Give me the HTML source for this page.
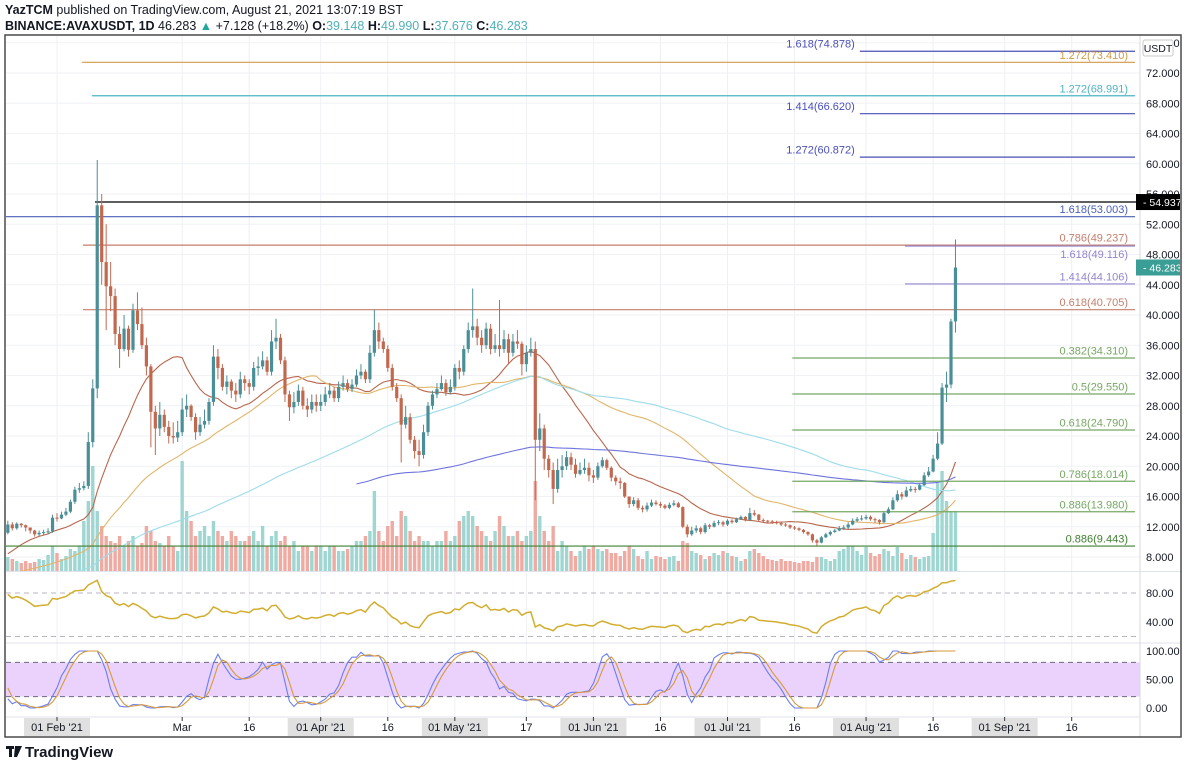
<!DOCTYPE html>
<html><head><meta charset="utf-8">
<style>
html,body{margin:0;padding:0;background:#fff;width:1186px;height:768px;overflow:hidden}
svg{display:block;font-family:"Liberation Sans",Arial,sans-serif}
</style></head>
<body>
<svg id="chart" width="1186" height="768" viewBox="0 0 1186 768" xmlns="http://www.w3.org/2000/svg">
<defs>
<clipPath id="mainClip"><rect x="6" y="36" width="1134" height="535"/></clipPath>
<clipPath id="rsiClip"><rect x="6" y="572" width="1134" height="70"/></clipPath>
<clipPath id="stClip"><rect x="6" y="644" width="1134" height="72"/></clipPath>
</defs>
<text x="5" y="14" font-size="12.5" fill="#131722"><tspan font-weight="bold">YazTCM</tspan> published on TradingView.com, August 21, 2021 13:07:19 BST</text>
<text x="5" y="30" font-size="12.5" fill="#131722"><tspan font-weight="bold">BINANCE:AVAXUSDT, 1D</tspan>  46.283 <tspan fill="#26a69a">▲</tspan> +7.128 (+18.2%) <tspan font-weight="bold">O:</tspan><tspan fill="#4fb0b8">39.148</tspan> <tspan font-weight="bold">H:</tspan><tspan fill="#4fb0b8">49.990</tspan> <tspan font-weight="bold">L:</tspan><tspan fill="#4fb0b8">37.676</tspan> <tspan font-weight="bold">C:</tspan><tspan fill="#4fb0b8">46.283</tspan></text>
<g id="grid"></g>
<g id="main" clip-path="url(#mainClip)"></g>
<g id="rsi"></g>
<g id="stoch"></g>
<g id="axes"></g>
<rect x="5" y="35" width="1176" height="702" fill="none" stroke="#4a4a4a" stroke-width="1.5"/>
<g>
<rect x="6" y="746" width="8" height="3" fill="#131722"/><rect x="9" y="746" width="3" height="11" fill="#131722"/>
<polygon points="15,746 22,746 17,757 14,757" fill="#131722"/>
<text x="25" y="757" font-size="15" font-weight="bold" fill="#131722">TradingView</text>
</g>
</svg>
<script>
// ---- data ----
const preCloses = [4.8,5.2,4.6,4.3,4.4,4.3,4.2,4.1,4.0,
4.1,4.0,3.9,3.9,3.8,3.6,3.7,3.8,3.9,4.0,4.1,4.2,4.1,4.0,3.9,3.8,3.7,3.6,3.5,3.4,3.5,3.6,3.5,3.4,3.3,3.2,3.1,3.0,3.0,2.9,3.0,
3.1,3.0,3.2,3.3,3.4,3.5,3.6,3.5,3.4,3.5,3.6,3.7,3.8,3.9,3.8,3.9,4.1,4.2,4.0,4.1,4.4,4.6,4.8,4.5,4.2,3.9,4.0,4.2,4.3,4.5,
4.6,4.4,4.3,4.2,4.3,4.4,4.3,4.2,4.0,3.9,3.7,3.8,3.9,3.9,3.8,3.9,4.0,3.9,3.8,3.7,3.5,3.3,3.0,3.2,3.3,3.4,3.5,3.4,3.4,3.5,3.6,
3.6,3.8,4.2,4.5,4.8,5.5,6.3,7.0,7.8,8.2,7.5,8.8,9.8,10.5,10.0,10.8,11.5,12.2,11.8,11.2];
const closes = [12.3,11.8,12.4,12.2,11.9,11.5,11.0,11.2,11.3,11.4,13.2,
13.1,13.6,14.0,15.3,16.9,17.1,17.4,23.2,30.3,54.5,47.0,43.8,42.5,37.5,35.5,38.2,35.4,40.6,38.8,36.0,33.2,27.2,25.0,26.8,25.2,24.0,23.8,24.5,
27.5,28.0,26.5,24.5,25.5,26.0,28.5,34.5,33.0,30.5,31.2,30.0,29.5,31.5,31.0,30.5,33.0,33.2,34.0,32.5,36.5,37.0,34.0,29.5,27.8,28.5,30.0,28.0,27.5,28.5,28.0,
28.5,29.5,30.0,29.0,30.5,31.0,30.2,30.8,32.0,32.5,31.5,35.0,38.0,36.5,35.5,33.0,30.5,29.0,25.5,26.5,23.5,22.0,21.5,24.5,28.0,29.5,30.2,31.0,29.8,30.5,
33.0,32.5,35.5,38.0,38.5,37.0,36.0,38.2,35.5,36.0,35.5,36.8,35.0,36.5,36.2,33.5,35.0,35.5,23.5,25.0,21.0,19.5,17.0,19.5,20.0,21.2,20.2,19.0,19.5,19.8,18.8,
18.5,20.0,20.8,19.8,18.5,18.0,17.8,16.0,15.0,15.5,14.5,14.3,14.8,15.2,15.0,14.8,14.5,14.9,15.1,14.6,12.0,11.0,11.5,11.8,11.3,12.2,12.0,12.5,12.6,12.3,
12.8,12.6,13.0,13.3,12.9,13.8,13.6,12.9,12.8,12.7,12.6,12.5,12.3,12.2,11.9,11.8,11.6,11.3,11.0,10.2,9.9,10.6,11.0,11.3,11.5,11.8,11.9,12.3,12.8,13.0,13.1,
13.3,13.0,12.9,12.6,13.8,14.3,15.5,16.3,16.0,16.8,17.0,16.9,17.5,18.8,19.3,21.0,23.0,30.4,30.8,39.148,46.283];
const highs = [12.8,12.6,12.6,12.5,12.3,11.9,11.6,11.5,11.6,11.8,13.6,
13.8,14.0,14.5,15.6,17.3,17.8,18.0,24.5,31.5,60.5,56.0,52.0,47.0,43.5,38.5,40.0,38.6,41.5,43.0,41.0,37.0,33.5,28.0,28.5,27.5,26.0,25.8,26.0,
29.0,29.5,28.2,27.0,26.5,27.5,29.0,36.0,35.5,33.5,32.0,31.5,31.0,32.5,32.0,31.5,33.8,34.5,35.2,34.5,38.0,39.5,37.5,34.5,30.0,29.8,30.8,30.5,29.0,29.5,29.5,
29.5,30.5,31.0,30.5,31.2,32.0,31.5,31.5,32.8,33.5,32.8,36.0,40.7,39.0,37.0,36.0,33.5,31.0,29.5,28.0,27.0,24.0,23.5,25.5,28.5,30.0,31.0,32.0,31.5,31.5,
33.5,34.0,36.0,39.0,43.5,39.5,38.0,39.0,38.8,37.5,42.0,38.0,37.5,37.5,38.0,36.5,36.0,37.0,36.5,27.0,25.5,21.5,20.5,21.0,21.5,22.0,21.8,21.0,20.5,21.0,20.5,
19.5,20.5,21.2,21.0,20.0,18.8,18.5,17.9,16.0,15.9,15.8,14.8,15.2,15.6,15.5,15.3,15.0,15.2,15.5,15.3,14.7,12.3,12.0,12.2,12.0,12.5,12.4,12.8,12.9,12.8,
13.0,13.0,13.2,13.5,13.4,14.5,14.2,13.7,13.1,12.9,12.9,12.8,12.6,12.5,12.3,12.1,11.9,11.7,11.4,11.1,10.4,10.8,11.2,11.5,11.7,12.1,12.2,12.6,13.1,13.3,13.5,
13.6,13.5,13.2,13.0,14.0,14.6,15.9,16.8,16.6,17.3,17.4,17.3,17.8,19.2,19.9,21.5,24.5,31.0,32.5,39.5,49.99];
const lows = [11.0,11.5,11.6,11.9,11.4,11.1,10.7,10.7,10.9,11.0,11.2,
12.7,13.0,13.4,13.8,15.0,16.5,16.8,17.0,22.5,29.0,44.0,38.0,40.5,36.0,33.0,35.2,34.5,35.0,38.0,35.5,32.0,22.5,21.5,24.0,24.5,23.0,23.0,23.2,
24.0,26.5,26.0,23.5,24.0,25.0,25.5,28.0,31.5,30.0,29.5,29.0,28.5,29.0,30.0,29.5,30.0,32.0,32.8,32.0,32.0,35.5,33.5,28.5,26.0,27.0,28.0,27.5,26.5,27.0,27.2,
27.3,28.0,29.0,28.5,28.5,30.0,29.8,29.8,30.5,31.5,31.0,31.0,34.5,35.5,35.0,32.5,30.0,28.5,20.5,25.0,23.0,21.0,20.0,21.0,24.0,27.5,29.0,30.0,29.3,29.5,
30.0,31.5,32.0,35.0,37.0,36.0,35.0,35.5,34.8,35.0,34.5,35.0,33.5,34.5,35.5,32.0,32.5,34.5,15.5,22.0,19.5,18.5,15.0,16.5,18.5,19.5,19.5,18.5,18.8,19.0,18.0,
17.8,18.2,19.8,19.5,18.0,17.5,17.0,15.8,14.5,14.7,14.2,13.9,14.0,14.6,14.8,14.5,14.3,14.3,14.7,14.5,11.8,10.6,10.8,11.2,11.0,11.1,11.7,11.9,12.2,12.0,
12.1,12.4,12.5,12.9,12.7,12.8,13.4,12.7,12.6,12.5,12.4,12.3,12.1,12.0,11.7,11.6,11.4,11.1,10.8,9.9,9.5,9.8,10.5,10.8,11.2,11.4,11.6,11.7,12.2,12.6,12.8,
12.9,12.8,12.5,12.3,12.5,13.7,14.2,15.3,15.6,15.9,16.6,16.5,16.8,17.4,18.6,19.2,20.8,22.8,28.5,30.3,37.676];
const volumes = [14,12,10,8,10,8,9,12,11,16,25,
18,12,15,22,20,25,50,70,105,60,45,35,30,28,35,25,30,35,25,28,45,40,30,28,25,35,25,20,
110,60,50,35,40,45,35,50,40,35,30,40,35,30,30,35,40,30,45,25,35,40,30,35,25,30,20,25,25,20,25,
25,20,25,25,20,20,22,25,30,30,35,40,80,40,30,45,50,35,60,55,40,30,35,30,30,25,30,30,40,30,
35,50,55,60,55,45,40,35,30,40,55,45,35,35,40,30,35,40,90,55,40,30,45,20,30,25,20,15,20,25,22,
25,22,20,22,18,18,15,20,25,22,15,12,20,12,15,14,12,14,15,10,30,28,20,18,16,12,15,18,16,20,
18,15,14,10,12,20,22,18,15,12,11,10,12,10,10,9,8,10,10,9,14,14,12,10,12,20,22,25,25,20,16,
24,18,15,17,22,20,15,24,18,12,16,14,12,14,15,38,88,100,70,60,60];
const priceTicks = [8,12,16,20,24,28,32,36,40,44,48,52,56,60,64,68,72,76];
const timeTickDays = [0,28,43,59,74,89,105,120,135,150,165,181,196,212,227];
const timeTickLabels = ["01 Feb '21","Mar","16","01 Apr '21","16","01 May '21","17","01 Jun '21","16","01 Jul '21","16","01 Aug '21","16","01 Sep '21","16"];
const fibPrices = [74.878,73.410,68.991,66.620,60.872,53.003,49.237,49.116,44.106,40.705,34.310,29.550,24.790,18.014,13.980,9.443];
const fibLabels = ["1.618","1.272","1.272","1.414","1.272","1.618","0.786","1.618","1.414","0.618","0.382","0.5","0.618","0.786","0.886","0.886"];
const fibStartIdx = [190.6,16.6,18.8,190.6,190.6,-1,16.8,200.7,200.7,16.8,175.5,175.5,175.5,175.5,175.5,-1];
const fibLabelLeft = [1,0,0,1,1,0,0,0,0,0,0,0,0,0,0,0];
const fibLabelBelow = [0,0,0,0,0,0,0,1,0,0,0,0,0,0,0,0];
const fibColors = ["#4a4fb8","#d39a45","#4db5c5","#4a4fb8","#4a4fb8","#4a5fb8","#c47f6c","#9384d0","#9384d0","#c47f6c","#76a863","#76a863","#76a863","#76a863","#76a863","#3f7f30"];

// ---- scales ----
const NS="http://www.w3.org/2000/svg";
const PRE = preCloses.length;
function xOf(i){return 57 + (i-11)*4.47;}
function xDay(d){return 57 + d*4.47;}
function yP(p){return 73 + (72-p)*7.5625;}
function yR(v){return 593 + (80-v)*0.725;}
function yS(v){return 708 - v*0.57;}
function yV(v){return 571 - v*1.0;}
function mk(tag,attrs,parent){const e=document.createElementNS(NS,tag);for(const k in attrs)e.setAttribute(k,attrs[k]);parent.appendChild(e);return e;}

const grid=document.getElementById('grid'), main=document.getElementById('main'), rsiG=document.getElementById('rsi'), stG=document.getElementById('stoch'), axes=document.getElementById('axes');

timeTickDays.forEach((d,k)=>{
  const l=mk('line',{x1:xDay(d),x2:xDay(d),y1:36,y2:717,stroke:'#eef0f5','stroke-width':1},grid);
  
  
});
priceTicks.forEach(p=>{
  const l=mk('line',{x1:6,x2:1140,y1:yP(p),y2:yP(p),stroke:'#f0f2f6','stroke-width':1},grid);
  
  
});

closes.forEach((c,i)=>{
  const o = i>0?closes[i-1]:preCloses[PRE-1];
  const up=c>=o;
  const r=mk('rect',{x:xOf(i)-1.7,y:yV(volumes[i]),width:3.4,height:volumes[i]*1.0,fill:up?'#9fd6d2':'#efaaa2'},main);
  
  
});

const all = preCloses.concat(closes);
function sma(n){const out=[];for(let j=0;j<all.length;j++){if(j<n-1){out.push(null);continue;}let s=0;for(let k=j-n+1;k<=j;k++)s+=all[k];out.push(s/n);}return out;}
function ema(n){const out=[];const a=2/(n+1);let e=all[0];for(let j=0;j<all.length;j++){e=j==0?all[0]:e+a*(all[j]-e);out.push(j<n-1?null:e);}return out;}
const maDefs=[[20,'#b8664c','s'],[50,'#e2b56a','s'],[100,'#9ddcea','s'],[200,'#6f74dc','e']];
maDefs.forEach(([n,col,kind])=>{
  const m=kind=='s'?sma(n):ema(n);let d='';
  closes.forEach((c,i)=>{const v=m[PRE+i];if(v==null)return;d+=(d?'L':'M')+xOf(i).toFixed(1)+','+yP(v).toFixed(1);});
  const p=mk('path',{d:d,fill:'none',stroke:col,'stroke-width':1.1},main);
  
  
});

fibPrices.forEach((p,k)=>{
  const x1=Math.max(6,xOf(fibStartIdx[k])), y=yP(p);
  const l=mk('line',{x1:x1,x2:1135,y1:y,y2:y,stroke:fibColors[k],'stroke-width':1.2},main);
  
  
  const t=mk('text',{x:fibLabelLeft[k]?x1-5:1128,y:fibLabelBelow[k]?y+12:y-3.5,'font-size':11,fill:fibColors[k],'text-anchor':'end'},main);
  t.textContent=fibLabels[k]+'('+p.toFixed(3)+')';
  
  
});
const rl=mk('line',{x1:95,x2:1140,y1:yP(54.937),y2:yP(54.937),stroke:'#5e5e5e','stroke-width':2},main);



closes.forEach((c,i)=>{
  const o = i>0?closes[i-1]:preCloses[PRE-1];
  const up=c>=o, col=up?'#4a8f98':'#c2684f', x=xOf(i);
  const w=mk('line',{x1:x,x2:x,y1:yP(highs[i]),y2:yP(lows[i]),stroke:col,'stroke-width':1},main);
  
  
  const top=yP(Math.max(o,c)), h=Math.max(1,Math.abs(yP(o)-yP(c)));
  const b=mk('rect',{x:x-1.6,y:top,width:3.2,height:h,fill:col},main);
  
  
});

const rsi=[];(function(){let ag=0,al=0;for(let j=1;j<all.length;j++){const ch=all[j]-all[j-1];const g=Math.max(ch,0),l=Math.max(-ch,0);if(j<=14){ag+=g/14;al+=l/14;rsi[j]=j==14?100-100/(1+ag/(al||1e-9)):null;}else{ag=(ag*13+g)/14;al=(al*13+l)/14;rsi[j]=100-100/(1+ag/(al||1e-9));}}})();
const stRaw=[],K=[],D=[];
for(let j=0;j<all.length;j++){if(j<28){stRaw[j]=null;continue;}let mn=1e9,mx=-1e9;for(let k=j-13;k<=j;k++){mn=Math.min(mn,rsi[k]);mx=Math.max(mx,rsi[k]);}stRaw[j]=mx>mn?(rsi[j]-mn)/(mx-mn)*100:50;}
for(let j=0;j<all.length;j++){K[j]=j>=30?(stRaw[j]+stRaw[j-1]+stRaw[j-2])/3:null;}
for(let j=0;j<all.length;j++){D[j]=j>=32?(K[j]+K[j-1]+K[j-2])/3:null;}

[80,20].forEach(v=>{const l=mk('line',{x1:6,x2:1140,y1:yR(v),y2:yR(v),stroke:'#b9b3c4','stroke-width':1,'stroke-dasharray':'5,4'},rsiG);});
(function(){let d='';closes.forEach((c,i)=>{d+=(d?'L':'M')+xOf(i).toFixed(1)+','+yR(rsi[PRE+i]).toFixed(1);});const p=mk('path',{d:d,fill:'none',stroke:'#d2ad2e','stroke-width':1.5,'clip-path':'url(#rsiClip)'},rsiG);})();
const sep1=mk('line',{x1:6,x2:1181,y1:643,y2:643,stroke:'#e0e3eb','stroke-width':1},rsiG);


const sep0=mk('line',{x1:6,x2:1181,y1:571.5,y2:571.5,stroke:'#e0e3eb','stroke-width':1},rsiG);



const band=mk('rect',{x:6,y:yS(80),width:1134,height:yS(20)-yS(80),fill:'#ead2fc'},stG);


[80,20].forEach(v=>{const l=mk('line',{x1:6,x2:1140,y1:yS(v),y2:yS(v),stroke:'#6b6b7a','stroke-width':1,'stroke-dasharray':'5,4'},stG);});
[[K,'#6a7ef0','stoch-k-line'],[D,'#d79a3c','stoch-d-line']].forEach(([arr,col,nm])=>{let d='';closes.forEach((c,i)=>{const v=arr[PRE+i];if(v==null)return;d+=(d?'L':'M')+xOf(i).toFixed(1)+','+yS(v).toFixed(1);});const p=mk('path',{d:d,fill:'none',stroke:col,'stroke-width':1.1,'clip-path':'url(#stClip)'},stG);});

const ax=mk('line',{x1:1140,x2:1140,y1:35,y2:737,stroke:'#d6d9e0','stroke-width':1},axes);


const tx=mk('line',{x1:6,x2:1140,y1:717,y2:717,stroke:'#e0e3eb','stroke-width':1},axes);


priceTicks.forEach(p=>{
  const t=mk('text',{x:1146,y:yP(p)+4,'font-size':11,fill:'#131722'},axes);
  t.textContent=p.toFixed(3);
  
  
});
[[80,'80.00'],[40,'40.00']].forEach(([v,s])=>{const t=mk('text',{x:1146,y:yR(v)+4,'font-size':11,fill:'#131722'},axes);t.textContent=s;});
[[100,'100.00'],[50,'50.00'],[0,'0.00']].forEach(([v,s])=>{const t=mk('text',{x:1146,y:yS(v)+4,'font-size':11,fill:'#131722'},axes);t.textContent=s;});
timeTickDays.forEach((d,k)=>{
  const x=xDay(d), lab=timeTickLabels[k], boxed=lab.indexOf("'")>=0;
  if(boxed){const r=mk('rect',{x:x-33,y:718,width:66,height:18,fill:'#e0e0e0'},axes);}
  const tk=mk('line',{x1:x,x2:x,y1:717,y2:721,stroke:'#333','stroke-width':1},axes);
  
  
  const t=mk('text',{x:x,y:731,'font-size':11,fill:'#131722','text-anchor':'middle'},axes);
  t.textContent=lab;
  
  
});
const ub=mk('rect',{x:1143,y:40,width:30,height:16,fill:'#fff',stroke:'#c8c8c8',rx:2},axes);


const ut=mk('text',{x:1158,y:52,'font-size':10.5,fill:'#131722','text-anchor':'middle'},axes);
ut.textContent='USDT';


[[54.937,'#000000','54.937'],[46.283,'#3a9e96','46.283']].forEach(([p,col,s])=>{
  const r=mk('rect',{x:1136,y:yP(p)-8,width:44,height:16,fill:col},axes);
  
  
  const t=mk('text',{x:1143,y:yP(p)+4,'font-size':10.5,fill:'#fff'},axes);
  t.textContent='- '+s;
  
  
});
</script>
</body></html>
